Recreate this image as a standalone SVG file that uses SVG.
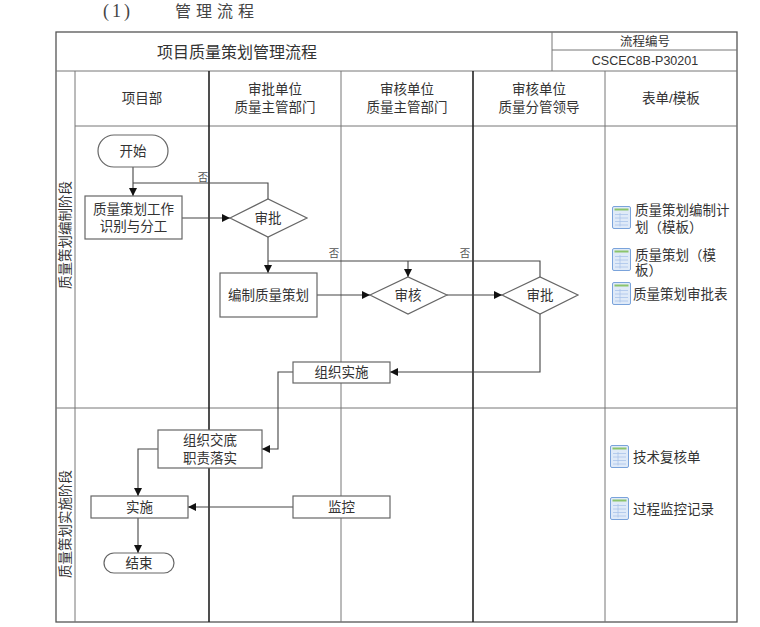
<svg xmlns="http://www.w3.org/2000/svg" width="760" height="627" viewBox="0 0 760 627">
<defs>
<style>
text{font-family:"Liberation Sans","Noto Sans CJK SC",sans-serif;fill:#333;font-size:13.5px;}
.c{text-anchor:middle;dominant-baseline:central;}
.l{dominant-baseline:central;}
.frame{fill:none;stroke:#555;stroke-width:1.3;}
.grid{stroke:#777;stroke-width:1;fill:none;}
.dark{stroke:#222;stroke-width:1.6;fill:none;}
.shape{fill:#fff;stroke:#666;stroke-width:1.2;}
.con{fill:none;stroke:#444;stroke-width:1.1;}
.no{font-size:10.5px;fill:#555;}
</style>
<marker id="ah" viewBox="0 0 10 10" refX="10" refY="5" markerWidth="8" markerHeight="8" markerUnits="userSpaceOnUse" orient="auto">
<path d="M0,0 L10,5 L0,10 z" fill="#111"/>
</marker>
<g id="icon">
<rect x="0.5" y="0.5" width="18" height="22" rx="1.5" fill="#dfeaf8" stroke="#7aa3db" stroke-width="1"/>
<rect x="2.5" y="2.5" width="14" height="2" fill="#8cc46c"/>
<path d="M3,8.5 H16 M3,12 H16 M3,15.5 H16 M3,19 H16 M8,7 V20.5" stroke="#a9c4ea" stroke-width="0.8" fill="none"/>
</g>
</defs>
<rect width="760" height="627" fill="#fff"/>

<g id="heading">
<text x="103" y="11" class="l" style="font-family:'Liberation Serif','Noto Sans CJK SC',serif;font-size:18px;letter-spacing:3px;fill:#444">(1)</text>
<text x="175" y="11" class="l" style="font-size:16px;letter-spacing:5px;fill:#444">管理流程</text>
</g>

<g id="table">
<rect x="56" y="32" width="681" height="590" class="frame"/>
<line x1="56" y1="71" x2="737" y2="71" class="grid"/>
<line x1="552" y1="32" x2="552" y2="71" class="grid"/>
<line x1="552" y1="50" x2="737" y2="50" class="grid"/>
<line x1="75" y1="126" x2="737" y2="126" class="grid"/>
<line x1="75" y1="71" x2="75" y2="622" class="grid"/>
<line x1="56" y1="408" x2="737" y2="408" class="grid"/>
<line x1="209" y1="71" x2="209" y2="622" class="dark"/>
<line x1="341" y1="71" x2="341" y2="622" class="grid"/>
<line x1="473" y1="71" x2="473" y2="622" class="dark"/>
<line x1="605" y1="71" x2="605" y2="622" class="grid"/>
<text x="237" y="52" class="c" style="font-size:16px">项目质量策划管理流程</text>
<text x="645" y="42" class="c" style="font-size:12.5px">流程编号</text>
<text x="645" y="61" class="c" style="font-size:12.5px">CSCEC8B-P30201</text>
<text x="142" y="98" class="c">项目部</text>
<text x="275" y="89" class="c">审批单位</text>
<text x="275" y="107" class="c">质量主管部门</text>
<text x="407" y="89" class="c">审核单位</text>
<text x="407" y="107" class="c">质量主管部门</text>
<text x="539" y="89" class="c">审核单位</text>
<text x="539" y="107" class="c">质量分管领导</text>
<text x="671" y="98" class="c">表单/模板</text>
<text class="c" transform="translate(65,235) rotate(-90)">质量策划编制阶段</text>
<text class="c" transform="translate(65,524) rotate(-90)">质量策划实施阶段</text>
</g>

<g id="connectors">
<path class="con" d="M133,167 V196" marker-end="url(#ah)"/>
<path class="con" d="M182,218 H230" marker-end="url(#ah)"/>
<path class="con" d="M268,199 V183 H133"/>
<path class="con" d="M268,237 V273" marker-end="url(#ah)"/>
<path class="con" d="M317,295 H370" marker-end="url(#ah)"/>
<path class="con" d="M447,295 H502" marker-end="url(#ah)"/>
<path class="con" d="M540,277 V261 H268"/>
<path class="con" d="M408,261 V277" marker-end="url(#ah)"/>
<path class="con" d="M540,314 V372 H390" marker-end="url(#ah)"/>
<path class="con" d="M293,372 H278 V449 H262" marker-end="url(#ah)"/>
<path class="con" d="M158,449 H138 V496" marker-end="url(#ah)"/>
<path class="con" d="M293,507 H188" marker-end="url(#ah)"/>
<path class="con" d="M138,518 V553" marker-end="url(#ah)"/>
<text x="203" y="177" class="c no">否</text>
<text x="334" y="253" class="c no">否</text>
<text x="465" y="253" class="c no">否</text>
</g>

<g id="start">
<rect x="98" y="135" width="70" height="32" rx="16" class="shape"/>
<text x="133" y="151" class="c">开始</text>
</g>
<g id="identify">
<rect x="85" y="196" width="97" height="43" class="shape"/>
<text x="133.5" y="209" class="c">质量策划工作</text>
<text x="133.5" y="226" class="c">识别与分工</text>
</g>
<g id="approve1">
<polygon points="230,218 268,199 307,218 268,237" class="shape"/>
<text x="268" y="218" class="c">审批</text>
</g>
<g id="compile">
<rect x="220" y="273" width="97" height="44" class="shape"/>
<text x="268.5" y="295" class="c">编制质量策划</text>
</g>
<g id="review">
<polygon points="370,295 408,277 447,295 408,314" class="shape"/>
<text x="408" y="295" class="c">审核</text>
</g>
<g id="approve2">
<polygon points="502,295 540,277 578,295 540,314" class="shape"/>
<text x="540" y="295" class="c">审批</text>
</g>
<g id="organize">
<rect x="293" y="362" width="97" height="21" class="shape"/>
<text x="341.5" y="372.5" class="c">组织实施</text>
</g>
<g id="briefing">
<rect x="158" y="430" width="104" height="38" class="shape"/>
<text x="210" y="440" class="c">组织交底</text>
<text x="210" y="458" class="c">职责落实</text>
</g>
<g id="implement">
<rect x="91" y="496" width="97" height="22" class="shape"/>
<text x="139.5" y="507" class="c">实施</text>
</g>
<g id="monitor">
<rect x="293" y="496" width="97" height="22" class="shape"/>
<text x="341.5" y="507" class="c">监控</text>
</g>
<g id="end">
<rect x="104" y="553" width="70" height="20" rx="10" class="shape"/>
<text x="139" y="563" class="c">结束</text>
</g>

<g id="forms">
<use href="#icon" x="612" y="206"/>
<text x="635" y="210" class="l">质量策划编制计</text>
<text x="635" y="227" class="l">划（模板）</text>
<use href="#icon" x="612" y="248"/>
<text x="635" y="255" class="l">质量策划（模</text>
<text x="635" y="270" class="l">板）</text>
<use href="#icon" x="612" y="282"/>
<text x="633" y="294" class="l">质量策划审批表</text>
<use href="#icon" x="610" y="445"/>
<text x="633" y="457" class="l">技术复核单</text>
<use href="#icon" x="610" y="497"/>
<text x="633" y="509" class="l">过程监控记录</text>
</g>
</svg>
